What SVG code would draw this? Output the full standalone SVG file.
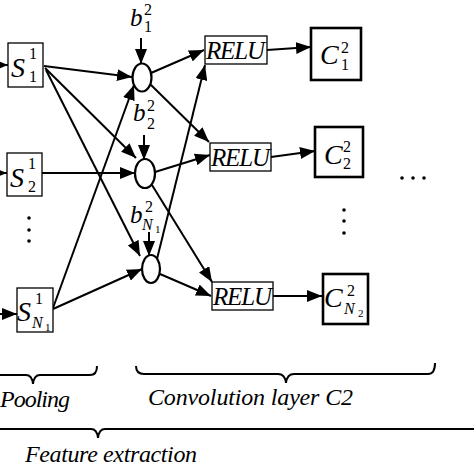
<svg xmlns="http://www.w3.org/2000/svg" width="474" height="474" viewBox="0 0 474 474">
<defs>
<style>
.t{font-family:"Liberation Serif","DejaVu Serif",serif;font-style:italic;fill:#000}
.u{font-style:normal}
.big{font-size:28px}
.mid{font-size:25px}
.sm{font-size:16px}
.xs{font-size:11px}
.lab{font-size:24px}
.node{fill:#fff;stroke:#000}
.thin{stroke-width:1.3}
.thick{stroke-width:2.6}
.ell{fill:#fff;stroke:#000;stroke-width:2.2}
.ln{stroke:#000;stroke-width:2;fill:none;marker-end:url(#ah)}
.br{stroke:#000;stroke-width:2;fill:none}
</style>
<marker id="ah" markerUnits="userSpaceOnUse" markerWidth="15" markerHeight="12" refX="15" refY="6" orient="auto">
<path d="M0,0 L15,6 L0,12 z" fill="#000"/>
</marker>
</defs>
<rect width="474" height="474" fill="#fff"/>

<g id="connectors">
<line class="ln" x1="-4" y1="65" x2="8" y2="65"/>
<line class="ln" x1="-4" y1="173" x2="7" y2="173"/>
<line class="ln" x1="-4" y1="314" x2="17" y2="314"/>
<line class="ln" x1="44" y1="66" x2="132" y2="77"/>
<line class="ln" x1="45" y1="68" x2="136" y2="158"/>
<line class="ln" x1="46" y1="70" x2="140" y2="256"/>
<line class="ln" x1="42" y1="173" x2="135" y2="173"/>
<line class="ln" x1="53" y1="308" x2="134" y2="85"/>
<line class="ln" x1="53" y1="309" x2="142" y2="269"/>
<line class="ln" x1="151" y1="73" x2="204" y2="50"/>
<line class="ln" x1="150" y1="84" x2="209" y2="142"/>
<line class="ln" x1="155" y1="172" x2="210" y2="155"/>
<line class="ln" x1="152" y1="185" x2="212" y2="282"/>
<line class="ln" x1="157" y1="259" x2="205" y2="65"/>
<line class="ln" x1="160" y1="274" x2="211" y2="296"/>
<line class="ln" x1="267" y1="50" x2="311" y2="47"/>
<line class="ln" x1="271" y1="157" x2="315" y2="151"/>
<line class="ln" x1="273" y1="296" x2="322" y2="296"/>
<line class="ln" x1="141" y1="38" x2="141" y2="64"/>
<line class="ln" x1="144" y1="135" x2="144" y2="160"/>
<line class="ln" x1="149" y1="232" x2="149" y2="256"/>
</g>

<g id="S1">
<rect class="node thin" x="8" y="43" width="35" height="44"/>
<text class="t big" x="11" y="77">S</text>
<text class="t u sm" x="29" y="59">1</text>
<text class="t u sm" x="29" y="82">1</text>
</g>
<g id="S2">
<rect class="node thin" x="7" y="153" width="35" height="43"/>
<text class="t big" x="10" y="187">S</text>
<text class="t u sm" x="28" y="169">1</text>
<text class="t u sm" x="28" y="192">2</text>
</g>
<g id="SN">
<rect class="node thin" x="17" y="288" width="36" height="44"/>
<text class="t big" x="17" y="321">S</text>
<text class="t u sm" x="35" y="304">1</text>
<text class="t sm" x="32" y="328">N</text>
<text class="t u xs" x="45" y="331">1</text>
</g>

<g id="E1"><ellipse class="ell" cx="142" cy="77.5" rx="9.5" ry="14"/></g>
<g id="E2"><ellipse class="ell" cx="145" cy="173.5" rx="10" ry="14.5"/></g>
<g id="E3"><ellipse class="ell" cx="151" cy="269" rx="9" ry="14"/></g>

<g id="B1">
<text class="t mid" x="130" y="26">b</text>
<text class="t u sm" x="144" y="15">2</text>
<text class="t u sm" x="144" y="32">1</text>
</g>
<g id="B2">
<text class="t mid" x="133" y="121">b</text>
<text class="t u sm" x="147" y="111">2</text>
<text class="t u sm" x="147" y="129">2</text>
</g>
<g id="BN">
<text class="t mid" x="130" y="223">b</text>
<text class="t u sm" x="145" y="212">2</text>
<text class="t sm" x="142" y="230">N</text>
<text class="t u xs" x="155" y="233">1</text>
</g>

<g id="R1">
<rect class="node thin" x="205" y="36" width="62" height="28"/>
<text class="t mid" x="206" y="59" textLength="59">RELU</text>
</g>
<g id="R2">
<rect class="node thin" x="210" y="143" width="61" height="28"/>
<text class="t mid" x="211" y="166" textLength="59">RELU</text>
</g>
<g id="R3">
<rect class="node thin" x="212" y="282" width="61" height="28"/>
<text class="t mid" x="213" y="305" textLength="59">RELU</text>
</g>

<g id="C1">
<rect class="node thick" x="311" y="28" width="50" height="52"/>
<text class="t big" x="320" y="64">C</text>
<text class="t u sm" x="341" y="53">2</text>
<text class="t u sm" x="341" y="70">1</text>
</g>
<g id="C2">
<rect class="node thick" x="315" y="127" width="48" height="50"/>
<text class="t big" x="324" y="164">C</text>
<text class="t u sm" x="343" y="152">2</text>
<text class="t u sm" x="343" y="169">2</text>
</g>
<g id="CN">
<rect class="node thick" x="323" y="274" width="45" height="50"/>
<text class="t big" x="324" y="307">C</text>
<text class="t u sm" x="347" y="296">2</text>
<text class="t sm" x="344" y="314">N</text>
<text class="t u xs" x="358" y="317">2</text>
</g>

<g id="dots" fill="#000">
<circle cx="29" cy="218" r="1.8"/><circle cx="29" cy="230" r="1.8"/><circle cx="29" cy="241" r="1.8"/>
<circle cx="344" cy="210" r="1.8"/><circle cx="344" cy="221" r="1.8"/><circle cx="344" cy="233" r="1.8"/>
<circle cx="402" cy="178" r="1.8"/><circle cx="413" cy="178" r="1.8"/><circle cx="424" cy="178" r="1.8"/>
</g>

<g id="braces">
<path class="br" d="M-5,375 L26,375 Q32,375 33,384 Q34,375 40,375 L90,375 Q97,375 97,366"/>
<path class="br" d="M136,366 Q136,374 144,374 L278,374 Q285,374 286,383 Q287,374 294,374 L428,374 Q435,374 435,363"/>
<path class="br" d="M-5,429 L91,429 Q97,429 98,438 Q99,429 105,429 L480,429"/>
</g>

<g id="labels">
<text class="t lab" x="0" y="407" textLength="70">Pooling</text>
<text class="t lab" x="148" y="405" textLength="205">Convolution layer C2</text>
<text class="t lab" x="25" y="462" textLength="172">Feature extraction</text>
</g>
</svg>
